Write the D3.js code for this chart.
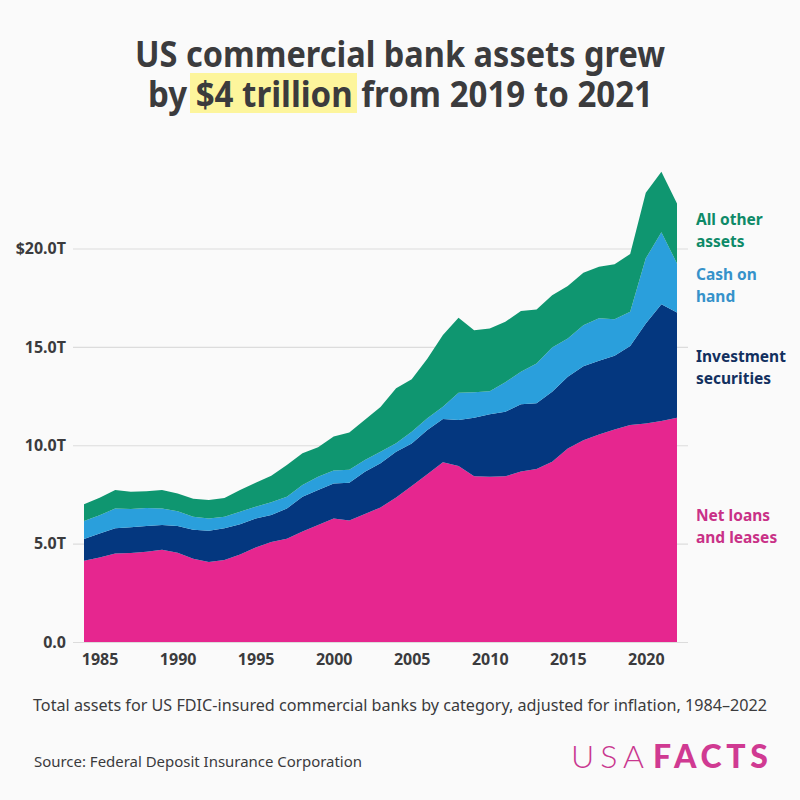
<!DOCTYPE html>
<html>
<head>
<meta charset="utf-8">
<script src="https://cdnjs.cloudflare.com/ajax/libs/d3/7.8.5/d3.min.js"></script>
<style>
html, body { margin: 0; padding: 0; background: #fafafa; }
svg { display: block; }
text { font-family: "Noto Sans", sans-serif; }
</style>
</head>
<body>
<div id="my_dataviz"></div>
<script>
// values in trillions of dollars
const years = d3.range(1984, 2023);
const net_loans = [4.13,4.30,4.50,4.52,4.59,4.69,4.54,4.23,4.06,4.17,4.45,4.80,5.08,5.25,5.61,5.95,6.28,6.18,6.50,6.84,7.35,7.93,8.52,9.13,8.94,8.43,8.40,8.42,8.66,8.79,9.16,9.84,10.26,10.55,10.80,11.03,11.11,11.23,11.40];
const securities = [1.10,1.22,1.28,1.31,1.30,1.26,1.35,1.48,1.60,1.61,1.53,1.48,1.37,1.54,1.77,1.77,1.78,1.92,2.15,2.24,2.32,2.16,2.25,2.20,2.34,2.97,3.17,3.28,3.42,3.34,3.56,3.64,3.76,3.75,3.75,4.01,5.08,5.94,5.35];
const cash = [0.92,0.92,1.01,0.93,0.92,0.84,0.75,0.66,0.62,0.59,0.64,0.60,0.65,0.59,0.60,0.68,0.66,0.66,0.60,0.59,0.43,0.60,0.60,0.63,1.39,1.29,1.18,1.50,1.66,2.03,2.25,1.95,2.08,2.15,1.86,1.75,3.31,3.65,2.49];
const other = [0.85,0.89,0.93,0.88,0.85,0.93,0.91,0.91,0.94,0.95,1.10,1.22,1.35,1.62,1.61,1.50,1.73,1.89,2.05,2.28,2.80,2.66,3.03,3.64,3.81,3.16,3.19,3.08,3.08,2.74,2.66,2.66,2.67,2.62,2.79,2.93,3.33,3.08,3.05];

const series_names = ['loans', 'securities', 'cash', 'other'];
const series_colours = ['#e6268f', '#04377f', '#2a9fdc', '#0f9670'];
const x_ticks = [1985, 1990, 1995, 2000, 2005, 2010, 2015, 2020];
const y_ticks = [0, 5, 10, 15, 20];
const y_tick_labels = ['0.0', '5.0T', '10.0T', '15.0T', '$20.0T'];

const rows = years.map((y, i) => ({year: y, loans: net_loans[i], securities: securities[i], cash: cash[i], other: other[i]}));

var svg = d3.select('#my_dataviz').append('svg')
    .attr('width', 800)
    .attr('height', 800);

svg.append('rect').attr('width', 800).attr('height', 800).attr('fill', '#fafafa');

//scales
const x = d3.scaleLinear().domain([1984, 2022]).range([84, 677]);
const y = d3.scaleLinear().domain([0, 20]).range([642, 248.5]);
const colour = d3.scaleOrdinal().domain(series_names).range(series_colours);

//title
var title1 = svg.append('text')
    .attr('x', 400).attr('y', 67)
    .attr('text-anchor', 'middle')
    .attr('fill', '#3b3b3d')
    .style('font-size', '35px').style('font-weight', 700)
    .attr('textLength', 530).attr('lengthAdjust', 'spacingAndGlyphs')
    .text('US commercial bank assets grew');

svg.append('rect')
    .attr('x', 190).attr('y', 73)
    .attr('width', 167).attr('height', 40)
    .attr('fill', '#fdf59c');

var title2 = svg.append('text')
    .attr('x', 400.5).attr('y', 107)
    .attr('text-anchor', 'middle')
    .attr('fill', '#3b3b3d')
    .style('font-size', '35px').style('font-weight', 700)
    .attr('textLength', 505).attr('lengthAdjust', 'spacingAndGlyphs')
    .text('by $4 trillion from 2019 to 2021');

//y axis with gridlines
var y_axis = svg.append('g')
    .attr('transform', 'translate(73,0)')
    .call(d3.axisLeft(y)
        .tickValues(y_ticks)
        .tickFormat((d, i) => y_tick_labels[i])
        .tickSize(-615)
        .tickPadding(7));
y_axis.select('.domain').remove();
y_axis.selectAll('line').attr('stroke', '#dcdcdc').attr('stroke-width', 1.2);
y_axis.selectAll('text')
    .attr('fill', '#3b3b3d')
    .style('font-size', '16px').style('font-weight', 700);

//stacked areas
const stacked = d3.stack().keys(series_names)(rows);
const area = d3.area()
    .x(d => x(d.data.year))
    .y0(d => y(d[0]))
    .y1(d => y(d[1]));

svg.append('g').selectAll('path')
    .data(stacked)
    .join('path')
    .attr('d', area)
    .attr('fill', d => colour(d.key));

//x axis
var x_axis = svg.append('g')
    .attr('transform', 'translate(0,642)')
    .call(d3.axisBottom(x)
        .tickValues(x_ticks)
        .tickFormat(d3.format('d'))
        .tickSize(0)
        .tickPadding(12));
x_axis.select('.domain').remove();
x_axis.selectAll('text')
    .attr('fill', '#3b3b3d')
    .style('font-size', '16px').style('font-weight', 700);

//direct labels
const label_lines = [['All other', 'assets'], ['Cash on', 'hand'], ['Investment', 'securities'], ['Net loans', 'and leases']];
const label_colours = ['#0e8a68', '#3692ca', '#12305f', '#c93187'];
const label_y = [225, 280, 362, 521];

label_lines.forEach((lines, i) => {
    lines.forEach((line, j) => {
        svg.append('text')
            .attr('x', 696).attr('y', label_y[i] + j * 22)
            .attr('fill', label_colours[i])
            .style('font-size', '15.5px').style('font-weight', 700)
            .text(line);
    });
});

//notes
svg.append('text')
    .attr('x', 33).attr('y', 711)
    .attr('fill', '#3b3b3d')
    .style('font-size', '16px')
    .attr('textLength', 734).attr('lengthAdjust', 'spacingAndGlyphs')
    .text('Total assets for US FDIC-insured commercial banks by category, adjusted for inflation, 1984–2022');

svg.append('text')
    .attr('x', 34).attr('y', 767)
    .attr('fill', '#3b3b3d')
    .style('font-size', '15px')
    .attr('textLength', 328).attr('lengthAdjust', 'spacingAndGlyphs')
    .text('Source: Federal Deposit Insurance Corporation');

//logo
svg.append('text')
    .attr('x', 571).attr('y', 768)
    .attr('fill', '#c9378f')
    .style('font-family', 'Lato').style('font-size', '32px').style('font-weight', 300)
    .attr('textLength', 73).attr('lengthAdjust', 'spacing')
    .text('USA');

svg.append('text')
    .attr('x', 653).attr('y', 768)
    .attr('fill', '#d03a92')
    .style('font-family', 'Lato').style('font-size', '32px').style('font-weight', 900)
    .attr('textLength', 115).attr('lengthAdjust', 'spacing')
    .text('FACTS');
</script>
</body>
</html>
